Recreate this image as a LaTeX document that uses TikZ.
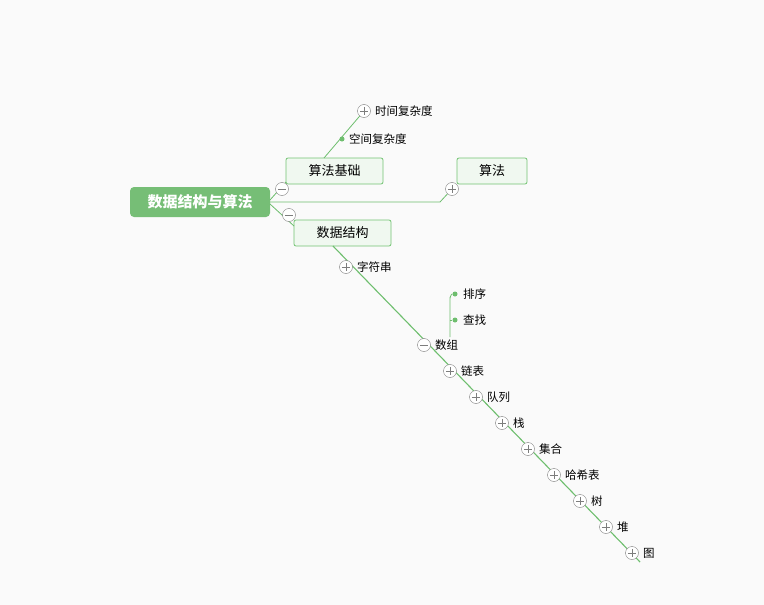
\documentclass[tikz,border=0pt]{standalone}
\usepackage{fontspec}
\setmainfont{Noto Sans CJK SC}
\definecolor{gl}{RGB}{110,190,110}
\definecolor{bd}{RGB}{115,195,115}
\definecolor{bf}{RGB}{240,248,240}
\definecolor{rt}{RGB}{118,190,118}
\definecolor{tg}{RGB}{125,125,125}
\definecolor{bg}{RGB}{250,250,250}
\begin{document}
\begin{tikzpicture}[x=1pt,y=-1pt,
  box/.style={draw=bd, line width=0.8pt, fill=bf, rounded corners=2pt, minimum height=26pt, inner sep=0pt, font=\fontsize{13}{13}\selectfont},
  leaf/.style={anchor=west, inner sep=1pt, font=\fontsize{11.5}{11.5}\selectfont},
  tog/.style={circle, draw=tg, fill=white, minimum size=13pt, inner sep=0pt},
  dotn/.style={circle, fill=gl, minimum size=5pt, inner sep=0pt}]
\fill[bg] (0,0) rectangle (764,605);
\useasboundingbox (0,0) rectangle (764,605);
\node[fill=rt, rounded corners=4pt, minimum width=140pt, minimum height=30pt, inner sep=0pt, text=white, font=\fontsize{15}{15}\selectfont\bfseries] (root) at (200,202) {数据结构与算法};
\node[box, minimum width=97pt] (jc) at (334.5,171) {算法基础};
\node[box, minimum width=97pt] (sj) at (342.5,233) {数据结构};
\node[box, minimum width=70pt] (sf) at (492,171) {算法};
\coordinate (r1) at (270,200);
\coordinate (r2) at (270,204);
\coordinate (r3) at (270,202);
\coordinate (k1) at (440,202);
\coordinate (jct) at (324,158);
\coordinate (sjb) at (333,246);
\coordinate (endp) at (640,562);
\draw[gl, line width=0.8pt] (r1) -- (286,182);
\draw[gl, line width=0.8pt] (r2) -- (294,226);
\draw[gl, line width=0.8pt] (r3) -- (k1) -- (452,189);
\draw[gl, line width=0.8pt] (jct) -- (364,111);
\draw[gl, line width=1.1pt] (sjb) -- (endp);
\node[tog] (m1) at (282,189) {};
\node[tog] (m2) at (289,215) {};
\node[tog] (p0) at (452,189) {};
\node[tog] (t1) at (364,111) {};
\node[leaf] at (374,111) {时间复杂度};
\node[dotn] (d1) at (342,139) {};
\node[leaf] at (348,139) {空间复杂度};
\node[tog] (ch) at (346,267) {};
\node[leaf] at (356,267) {字符串};
\node[tog] (sz) at (424,345) {};
\node[leaf] at (434,345) {数组};
\coordinate (szt) at (450,337);
\node[dotn] (px) at (455,294) {};
\node[dotn] (cz) at (455,320) {};
\draw[gl, line width=0.8pt] (szt) -- (450,298) to[out=-90,in=180] (px);
\draw[gl, line width=0.8pt] (450,320) -- (cz);
\node[leaf] at (462,294) {排序};
\node[leaf] at (462,320) {查找};
\foreach \i/\t in {0/链表,1/队列,2/栈,3/集合,4/哈希表,5/树,6/堆,7/图}{
  \node[tog] (n\i) at (450+26*\i,371+26*\i) {};
  \node[leaf] at (460+26*\i,371+26*\i) {\t};
}
\foreach \n in {m1,m2,sz,p0,t1,ch,n0,n1,n2,n3,n4,n5,n6,n7}{
  \draw[tg] (\n.west)++(2.5,0) -- ++(8,0);
}
\foreach \n in {p0,t1,ch,n0,n1,n2,n3,n4,n5,n6,n7}{
  \draw[tg] (\n.north)++(0,2.5) -- ++(0,8);
}
\end{tikzpicture}
\end{document}
